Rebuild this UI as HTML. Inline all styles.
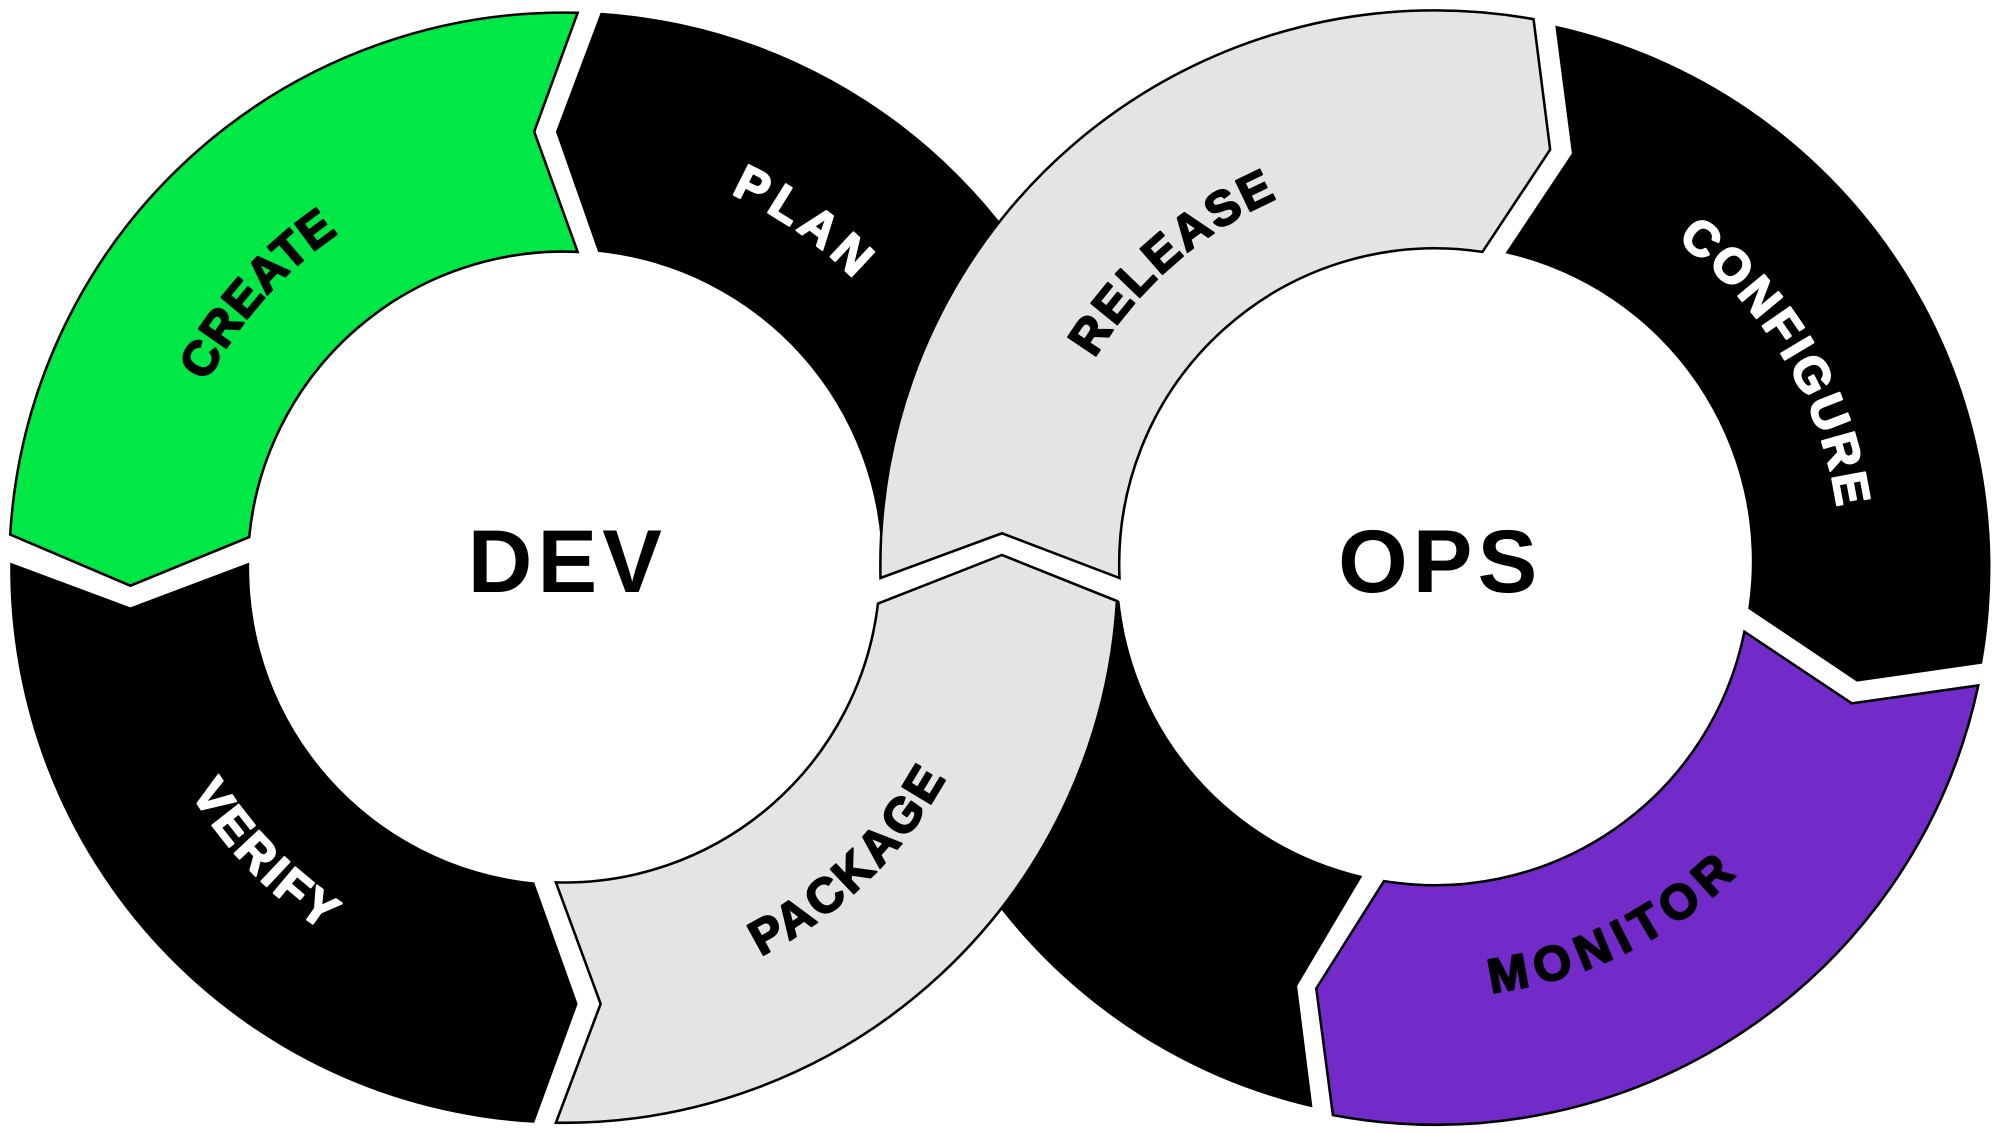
<!DOCTYPE html>
<html><head><meta charset="utf-8"><style>
html,body{margin:0;padding:0;background:#fff;}
svg{display:block;}
.lbl{font-family:"Liberation Sans",sans-serif;font-weight:bold;stroke-width:1.6;stroke-linejoin:round;}
.w{fill:#fff;stroke:#fff;}
.k{fill:#000;stroke:#000;}
.big{font-family:"Liberation Sans",sans-serif;font-weight:bold;letter-spacing:4px;fill:#000;}
</style></head><body>
<svg width="2000" height="1133" viewBox="0 0 1565 886" preserveAspectRatio="none" xmlns="http://www.w3.org/2000/svg">
<defs>
<path id="pCreate" d="M140.2,543.4 A318,318 0 0 1 505.9,131.5"/>
<path id="pPlan" d="M305.9,151.2 A322,322 0 0 1 762.8,471.1"/>
<path id="pRelease" d="M813.8,503.5 A317,317 0 0 1 1228.2,143.3"/>
<path id="pConfig" d="M1120.5,124 A319,319 0 0 1 1403.5,598.6"/>
<path id="pVerify" d="M116.1,349.6 A339,339 0 0 0 524,771.9"/>
<path id="pPackage" d="M348.8,767.9 A338,338 0 0 0 770,361.2"/>
<path id="pMonitor" d="M939.3,719.4 A333,333 0 0 0 1457.2,465.6"/>
</defs>
<path d="M8,440 L102,475 L195,440 A247,247 0 0 0 418,690 L452,785 L418,878 A434,434 0 0 1 8,440 Z" fill="#000"/>
<path d="M470,10 A434,434 0 0 1 850,295 L785,418 L690,445 A247,247 0 0 0 468,197 L435,103 Z" fill="#000"/>
<path d="M1027,866 A434,434 0 0 1 749,660 L784,434 L876,470 A247,247 0 0 0 1066,685 L1015,771 Z" fill="#000"/>
<path d="M1217,20 A434,434 0 0 1 1551,519 L1453,533 L1368,476 A247,247 0 0 0 1178,198 L1230,120 Z" fill="#000"/>
<path d="M8,418 A434,434 0 0 1 452,10 L418,103 L452,197 A247,247 0 0 0 195,420 L102,458 Z" fill="#00e845" stroke="#000" stroke-width="2"/>
<path d="M689,452 L784,417 L876,452 A247,247 0 0 1 1160,197 L1213,117 L1200,15 A434,434 0 0 0 689,452 Z" fill="#e4e4e4" stroke="#000" stroke-width="2"/>
<path d="M687,472 L784,434 L874,470 A434,434 0 0 1 435,878 L470,785 L435,690 A247,247 0 0 0 687,472 Z" fill="#e4e4e4" stroke="#000" stroke-width="2"/>
<path d="M1548,536 L1449,550 L1365,494 A247,247 0 0 1 1083,689 L1030,773 L1043,872 A434,434 0 0 0 1548,536 Z" fill="#722bc8" stroke="#000" stroke-width="2"/>
<text class="lbl k" font-size="38" letter-spacing="1" text-anchor="middle" dy="3"><textPath href="#pCreate" startOffset="50%">CREATE</textPath></text>
<text class="lbl w" font-size="38" letter-spacing="5" text-anchor="middle" dy="3"><textPath href="#pPlan" startOffset="50%">PLAN</textPath></text>
<text class="lbl k" font-size="38" letter-spacing="2.5" text-anchor="middle" dy="3"><textPath href="#pRelease" startOffset="50%">RELEASE</textPath></text>
<text class="lbl w" font-size="38" letter-spacing="3" text-anchor="middle" dy="3"><textPath href="#pConfig" startOffset="50%">CONFIGURE</textPath></text>
<text class="lbl w" font-size="38" letter-spacing="2.5" text-anchor="middle" dy="3"><textPath href="#pVerify" startOffset="50%">VERIFY</textPath></text>
<text class="lbl k" font-size="38" letter-spacing="2.5" text-anchor="middle" dy="3"><textPath href="#pPackage" startOffset="50%">PACKAGE</textPath></text>
<text class="lbl k" font-size="38" letter-spacing="6" text-anchor="middle" dy="3"><textPath href="#pMonitor" startOffset="50%">MONITOR</textPath></text>
<text class="big" font-size="70" x="444" y="463" text-anchor="middle">DEV</text>
<text class="big" font-size="70" x="1127" y="463" text-anchor="middle">OPS</text>
</svg>
</body></html>
